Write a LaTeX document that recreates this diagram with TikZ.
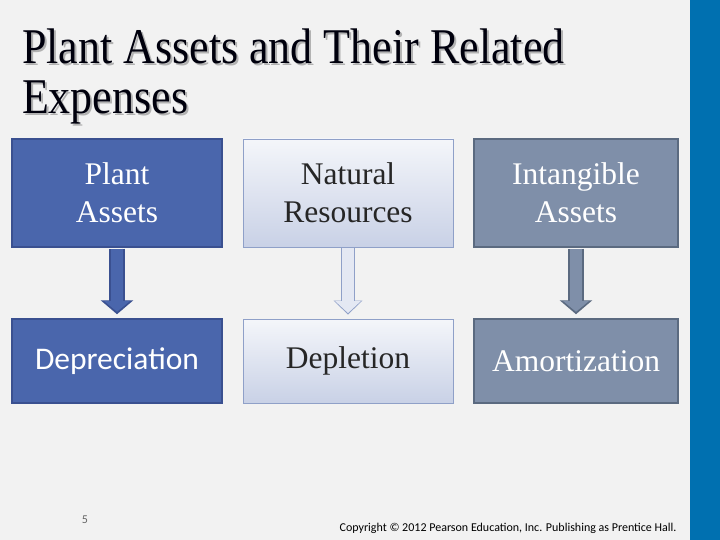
\documentclass[tikz,border=0pt]{standalone}
\usepackage{fontspec}
\setmainfont{Liberation Serif}
\newfontfamily\bodysans{Carlito}
\usetikzlibrary{positioning,arrows.meta}
\definecolor{pagebg}{HTML}{F2F2F2}
\definecolor{sidebar}{HTML}{0070B0}
\definecolor{plantfill}{HTML}{4A66AC}
\definecolor{plantline}{HTML}{3A5090}
\definecolor{natline}{HTML}{8FA0C8}
\definecolor{intfill}{HTML}{7F8FA9}
\definecolor{intline}{HTML}{5B6A80}
\tikzset{
  box/.style={rectangle, minimum width=210pt, minimum height=108pt, line width=1.5pt,
    align=center, font=\fontsize{31.5}{38}\selectfont, inner sep=0pt},
  plant/.style={box, fill=plantfill, draw=plantline, text=white},
  natural/.style={box, top color=white!85!plantfill!40, bottom color=plantfill!30, draw=natline, line width=0.8pt, text=black!85},
  intang/.style={box, fill=intfill, draw=intline, text=white},
  low/.style={minimum height=84pt},
  arr/.style={line width=16pt, -{Triangle[width=32pt,length=14pt]}, shorten >=-2pt},
  title/.style={anchor=north west, align=left, font=\fontsize{50}{50}\selectfont, xscale=0.88},
}
\begin{document}
\begin{tikzpicture}[x=1pt,y=-1pt]
  \fill[pagebg] (0,0) rectangle (720,540);
  \fill[sidebar] (690,0) rectangle (720,540);
  \useasboundingbox (0,0) rectangle (720,540);
  % title
  \node[title, text=black!30] (titleshadow) at (21,27) {Plant Assets and Their Related\\Expenses};
  \node[title, text=black!95!blue] (titletext) at (19,25) {Plant Assets and Their Related\\Expenses};
  % top row
  \node[plant] (plant) at (117,193) {Plant\\Assets};
  \node[natural] (natural) at (348,193) {Natural\\Resources};
  \node[intang, minimum width=204pt] (intang) at (576,193) {Intangible\\Assets};
  % bottom row
  \node[plant, low, font=\bodysans\fontsize{31.5}{36}\selectfont] (depr) at (117,361) {Depreciation};
  \node[natural, low] (depl) at (348,361) {Depletion};
  \node[intang, low, minimum width=204pt] (amort) at (576,361) {Amortization};
  % arrows
  \draw[arr, plantline, shorten <=0.75pt, shorten >=4pt] (plant.south) -- (depr.north);
  \draw[arr, plantfill, line width=12pt, -{Triangle[width=26pt,length=11pt]}, shorten <=0.75pt, shorten >=6.5pt] (plant.south) -- (depr.north);
  \draw[arr, natline, shorten <=0.4pt, shorten >=4pt, line width=14pt, -{Triangle[width=28pt,length=14pt]}] (natural.south) -- (depl.north);
  \draw[arr, plantfill!15, line width=12pt, -{Triangle[width=25pt,length=12pt]}, shorten <=0.4pt, shorten >=5.5pt] (natural.south) -- (depl.north);
  \draw[arr, intline, shorten <=0.75pt, shorten >=4pt] (intang.south) -- (amort.north);
  \draw[arr, intfill, line width=12pt, -{Triangle[width=26pt,length=11pt]}, shorten <=0.75pt, shorten >=6.5pt] (intang.south) -- (amort.north);
  % footer
  \node[font=\bodysans\fontsize{12}{14}\selectfont, text=black!60] (pagenum) at (85,520) {5};
  \node[font=\bodysans\fontsize{12}{14}\selectfont, anchor=east] (copy) at (680,528) {Copyright © 2012 Pearson Education, Inc. Publishing as Prentice Hall.};
\end{tikzpicture}
\end{document}
